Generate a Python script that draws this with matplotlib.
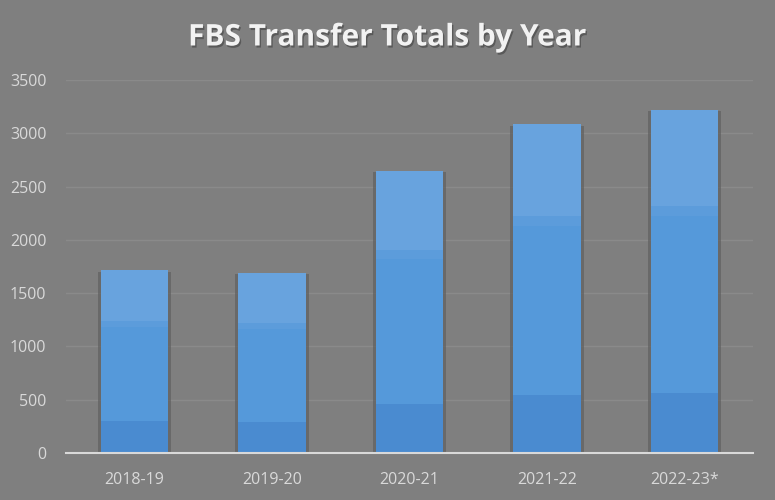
import numpy as np
import matplotlib.pyplot as plt
import matplotlib.patheffects as pe

years = ['2018-19', '2019-20', '2020-21', '2021-22', '2022-23*']
totals = [1715, 1688, 2645, 3085, 3218]

plt.rcParams['font.family'] = ['Open Sans', 'DejaVu Sans']

fig = plt.figure(figsize=(7.75, 5), dpi=100, facecolor='#7f7f7f')
ax = fig.add_axes([0.085, 0.094, 0.887, 0.746])
ax.set_facecolor('#7f7f7f')

x = np.arange(len(years))
w = 0.49

# shadow behind the bars
ax.bar(x, np.array(totals) - 12, width=w + 0.045, color='#606060', alpha=0.7, zorder=2)

# gradient-like fill: dark bottom, mid, light top
tot = np.array(totals, dtype=float)
lo = tot * 0.175
mid = tot * 0.69
ax.bar(x, lo, width=w, color='#4a8bd0', zorder=3)
ax.bar(x, mid - lo, bottom=lo, width=w, color='#5599da', zorder=3)
ax.bar(x, tot * 0.03, bottom=mid, width=w, color='#5c9cdb', zorder=3)
ax.bar(x, tot - mid - tot * 0.03, bottom=mid + tot * 0.03, width=w, color='#68a3de', zorder=3)

ax.set_xlim(-0.5, len(years) - 0.5)
ax.set_ylim(0, 3500)
ax.set_yticks(np.arange(0, 3501, 500))
ax.set_xticks(x)
ax.set_xticklabels(years)
ax.grid(axis='y', color='#8a8a8a', linewidth=1, zorder=0)
ax.set_axisbelow(True)
for s in ['top', 'right', 'left']:
    ax.spines[s].set_visible(False)
ax.spines['bottom'].set_color('#d9d9d9')
ax.spines['bottom'].set_linewidth(1.5)
ax.spines['bottom'].set_zorder(4)
ax.tick_params(axis='both', length=0, colors='#d9d9d9', labelsize=11.5)
ax.tick_params(axis='y', pad=14)
ax.tick_params(axis='x', pad=14)

fig.text(0.5, 0.925, 'FBS Transfer Totals by Year', ha='center', va='center',
         fontsize=21.5, fontweight='bold', color='#f2f2f2',
         path_effects=[pe.withSimplePatchShadow(offset=(1, -1.5), shadow_rgbFace='#505050', alpha=0.8)])

fig.savefig('out.png', dpi=100, facecolor=fig.get_facecolor())
